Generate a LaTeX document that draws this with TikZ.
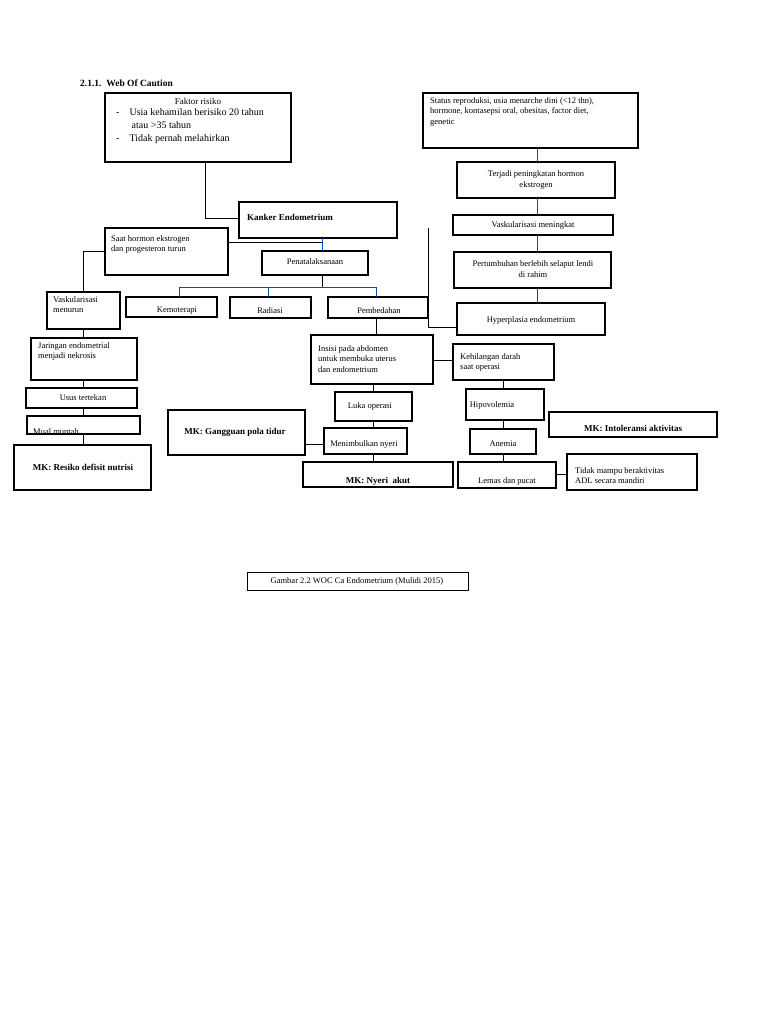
\documentclass[tikz,border=0pt]{standalone}
\usepackage{fontspec}
\setmainfont{Liberation Serif}
\begin{document}
\begin{tikzpicture}[x=1pt,y=-1pt,
 bx/.style={draw,line width=1.3pt},
 tx/.style={font=\fontsize{8.5}{10.5}\selectfont,align=left,anchor=north west,inner sep=0},
 ct/.style={font=\fontsize{8.5}{10.5}\selectfont,align=center,inner sep=0},
 bt/.style={font=\bfseries\fontsize{9}{11}\selectfont,inner sep=0},
 ln/.style={draw,line width=0.8pt},
 bl/.style={draw=blue!55!cyan!70!black,line width=0.8pt}]
\useasboundingbox (0,0) rectangle (768,1024);
\node[anchor=west,inner sep=0,font=\bfseries\fontsize{9.5}{11}\selectfont] (title) at (80,83) {2.1.1.\ \ Web Of Caution};
% boxes
\draw[bx] (105,93) rectangle (291,162) coordinate (fk);
\node[ct,font=\fontsize{9}{11}\selectfont] (fkt) at (198,101) {Faktor risiko};
\node[tx,font=\fontsize{10}{13}\selectfont] (fkb) at (116,108) {-\hspace{10pt}Usia kehamilan berisiko 20 tahun\\ \hspace{15.5pt}atau >35 tahun\\ -\hspace{10pt}Tidak pernah melahirkan};
\draw[bx] (423,93) rectangle (638,148);
\node[tx] (st) at (430,97) {Status reproduksi, usia menarche dini (<12 thn),\\hormone, kontasepsi oral, obesitas, factor diet,\\genetic};
\draw[bx] (457,162) rectangle (615,198);
\node[ct] (tj) at (536,180) {Terjadi peningkatan hormon\\ekstrogen};
\draw[bx] (239,202) rectangle (397,238);
\node[bt,anchor=west] (kk) at (247,217) {Kanker Endometrium};
\draw[bx] (453,215) rectangle (613,235);
\node[ct] (vm) at (533,225) {Vaskularisasi meningkat};
\draw[bx] (105,228) rectangle (228,275);
\node[tx] (sh) at (111,235) {Saat hormon ekstrogen\\dan progesteron turun};
\draw[bx] (262,251) rectangle (368,275);
\node[ct] (pn) at (315,262) {Penatalaksanaan};
\draw[bx] (454,252) rectangle (611,288);
\node[ct] (pt) at (533,269) {Pertumbuhan berlebih selaput lendi\\di rahim};
\draw[bx] (47,292) rectangle (120,329);
\node[tx] (vr) at (53,296) {Vaskularisasi\\menurun};
\draw[bx] (126,297) rectangle (217,317);
\node[ct] (km) at (177,311) {Kemoterapi};
\draw[bx] (230,297) rectangle (311,318);
\node[ct] (rd) at (270,311) {Radiasi};
\draw[bx] (328,297) rectangle (428,318);
\node[ct] (pb) at (379,311) {Pembedahan};
\draw[bx] (457,303) rectangle (605,335);
\node[ct] (hp) at (531,320) {Hyperplasia endometrium};
\draw[bx] (31,338) rectangle (137,380);
\node[tx] (jr) at (38,342) {Jaringan endometrial\\menjadi nekrosis};
\draw[bx] (311,335) rectangle (433,384);
\node[tx] (in) at (318,345) {Insisi pada abdomen\\untuk membuka uterus\\dan endometrium};
\draw[bx] (453,344) rectangle (554,380);
\node[tx] (kh) at (460,353) {Kehilangan darah\\saat operasi};
\draw[bx] (26,388) rectangle (137,408);
\node[ct] (us) at (83,398) {Usus tertekan};
\draw[bx] (335,392) rectangle (412,421);
\node[ct] (lk) at (370,406) {Luka operasi};
\draw[bx] (466,389) rectangle (544,420);
\node[ct] (hv) at (492,405) {Hipovolemia};
\draw[bx] (549,412) rectangle (717,437);
\node[bt] (mi) at (633,428) {MK: Intoleransi aktivitas};
\draw[bx] (27,416) rectangle (140,434);
\node[tx] (mm) at (33,428) {Mual muntah};
\draw[bx] (168,410) rectangle (305,455);
\node[bt] (mg) at (235,432) {MK: Gangguan pola tidur};
\draw[bx] (324,428) rectangle (407,454);
\node[ct] (mn) at (364,444) {Menimbulkan nyeri};
\draw[bx] (470,429) rectangle (536,454);
\node[ct] (an) at (503,444) {Anemia};
\draw[bx] (14,445) rectangle (151,490);
\node[bt] (mr) at (83,467) {MK: Resiko defisit nutrisi};
\draw[bx] (303,462) rectangle (453,487);
\node[bt] (mnk) at (378,481) {MK: Nyeri\ \ akut};
\draw[bx] (458,462) rectangle (556,488);
\node[ct] (lm) at (507,481) {Lemas dan pucat};
\draw[bx] (567,454) rectangle (697,490);
\node[tx] (td) at (575,467) {Tidak mampu beraktivitas\\ADL secara mandiri};
\draw[line width=0.8pt] (247,572) rectangle (468,590);
\node[ct] (gb) at (357,581) {Gambar 2.2 WOC Ca Endometrium (Mulidi 2015)};
% connectors
\draw[ln] (205,162) -- (205,218) -- (239,218);
\draw[bl] (322,238) -- (322,251);
\draw[ln] (228,242) -- (322,242);
\draw[ln] (105,251) -- (83,251) -- (83,292);
\draw[ln] (322,275) -- (322,287);
\draw[bl] (179,297) -- (179,287) -- (376,287) -- (376,297);
\draw[bl] (268,287) -- (268,297);
\draw[ln] (376,318) -- (376,335);
\draw[ln] (428,228) -- (428,327) -- (457,327);
\draw[bl] (537,148) -- (537,162) (537,198) -- (537,215) (537,235) -- (537,252) (537,288) -- (537,303);
\draw[ln] (83,329) -- (83,338) (83,380) -- (83,388) (83,408) -- (83,416) (83,434) -- (83,445);
\draw[ln] (433,360) -- (453,360);
\draw[ln] (373,384) -- (373,392) (373,421) -- (373,428) (373,454) -- (373,462);
\draw[ln] (324,444) -- (305,444);
\draw[ln] (503,380) -- (503,389) (503,420) -- (503,429) (503,454) -- (503,462);
\draw[ln] (556,474) -- (567,474);
\end{tikzpicture}
\end{document}
